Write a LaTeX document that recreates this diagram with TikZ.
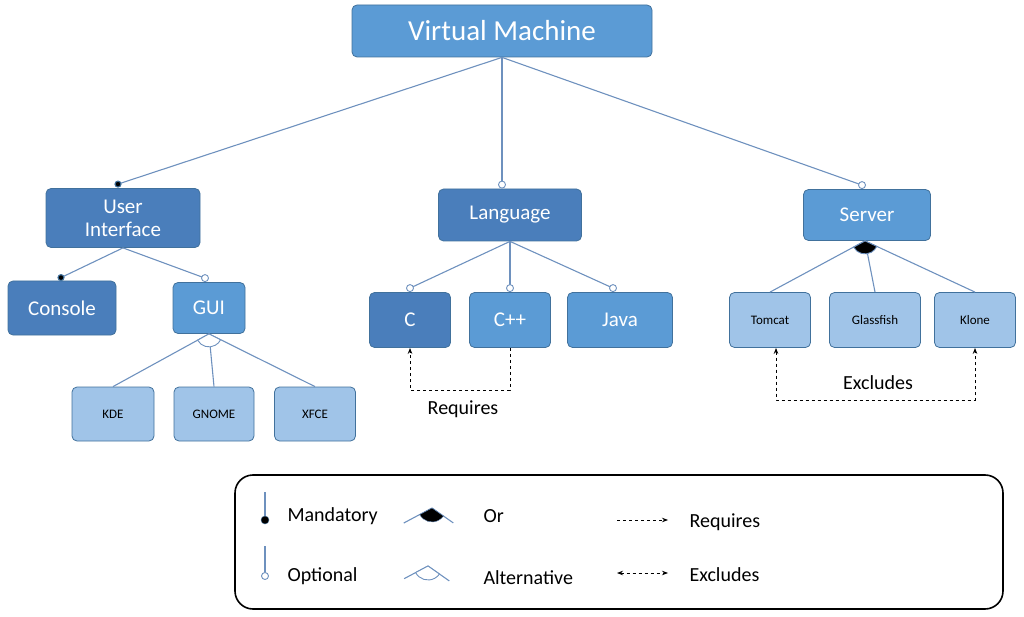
\documentclass[tikz,border=0pt]{standalone}
\usepackage{fontspec}
\setmainfont{Carlito}
\usetikzlibrary{arrows.meta,calc}
\definecolor{dk}{RGB}{74,126,187}
\definecolor{md}{RGB}{91,155,213}
\definecolor{lt}{RGB}{160,196,232}
\definecolor{bd}{RGB}{65,113,156}
\definecolor{ln}{RGB}{110,145,190}
\begin{document}
\begin{tikzpicture}[x=1pt,y=1pt,
 box/.style={draw=bd,line width=0.8pt,rounded corners=5pt,align=center,inner sep=0pt},
 dkb/.style={box,fill=dk,text=white,font=\fontsize{21}{23}\selectfont},
 mdb/.style={box,fill=md,text=white,font=\fontsize{21}{23}\selectfont},
 ltb/.style={box,fill=lt,text=black,font=\fontsize{13}{15}\selectfont},
 conn/.style={draw=ln,line width=1.1pt},
 mand/.style={circle,fill=black,draw=bd,inner sep=0pt,minimum size=6pt},
 opt/.style={circle,fill=white,draw=ln,line width=0.9pt,inner sep=0pt,minimum size=7pt},
 dep/.style={draw=black,dashed,line width=1pt,-{Stealth[length=6pt]}},
 lg/.style={font=\fontsize{20}{22}\selectfont,anchor=west}]
\useasboundingbox (0,0) rectangle (1024,-617);
% nodes
\node[mdb,minimum width=300,minimum height=52,font=\fontsize{29}{31}\selectfont] (vm) at (502,-31) {Virtual Machine};
\node[dkb,minimum width=154,minimum height=59] (ui) at (123,-218) {User\\Interface};
\node[dkb,minimum width=143,minimum height=52] (lang) at (510,-215) {Language};
\node[mdb,minimum width=127,minimum height=51] (srv) at (867,-215) {Server};
\node[dkb,minimum width=108,minimum height=54] (con) at (62,-308) {Console};
\node[mdb,minimum width=72,minimum height=51] (gui) at (209,-308) {GUI};
\node[ltb,minimum width=82,minimum height=54] (kde) at (113,-414) {KDE};
\node[ltb,minimum width=80,minimum height=54] (gnome) at (214,-414) {GNOME};
\node[ltb,minimum width=81,minimum height=54] (xfce) at (315,-414) {XFCE};
\node[dkb,minimum width=81,minimum height=55] (c) at (410,-320) {C};
\node[mdb,minimum width=81,minimum height=55] (cpp) at (510,-320) {C++};
\node[mdb,minimum width=105,minimum height=55] (java) at (620,-320) {Java};
\node[ltb,minimum width=81,minimum height=55] (tom) at (770,-320) {Tomcat};
\node[ltb,minimum width=91,minimum height=55] (gf) at (875,-320) {Glassfish};
\node[ltb,minimum width=81,minimum height=55] (kl) at (975,-320) {Klone};
% connectors
\coordinate (vmb) at ($(vm.south)+(0,0)$);
\draw[conn] (vmb) -- ([xshift=-5pt,yshift=4pt]ui.north) node[mand]{};
\draw[conn] (vmb) -- ([xshift=-8pt,yshift=4pt]lang.north) node[opt]{};
\draw[conn] (vmb) -- ([xshift=-5pt,yshift=4pt]srv.north) node[opt]{};
\draw[conn] (ui.south) -- ([xshift=-1pt,yshift=3pt]con.north) node[mand]{};
\draw[conn] (ui.south) -- ([xshift=-4pt,yshift=4pt]gui.north) node[opt]{};
\draw[conn] (lang.south) -- ([yshift=4pt]c.north) node[opt]{};
\draw[conn] (lang.south) -- ([yshift=4pt]cpp.north) node[opt]{};
\draw[conn] (lang.south) -- ([xshift=-7pt,yshift=4pt]java.north) node[opt]{};
\draw[conn] (gui.south) -- (kde.north);
\draw[conn] (gui.south) -- (gnome.north);
\draw[conn] (gui.south) -- (xfce.north);
\draw[draw=ln,fill=white,line width=0.9pt] (gui.south) -- ++(-151:13) arc[start angle=-151,end angle=-27,radius=13] -- cycle;
\draw[conn] ([xshift=-2pt]srv.south) -- (tom.north);
\draw[conn] ([xshift=-2pt]srv.south) -- (gf.north);
\draw[conn] ([xshift=-2pt]srv.south) -- (kl.north);
\draw[draw=ln,fill=black,line width=0.9pt] ([xshift=-2pt]srv.south) -- ++(-151:13) arc[start angle=-151,end angle=-25,radius=13] -- cycle;
% dependencies
\coordinate (r1) at (510,-390); \coordinate (r2) at (410,-390);
\draw[dep] (cpp.south) -- (r1) -- (r2) -- (c.south);
\node[font=\fontsize{20}{22}\selectfont] (rq) at (463,-409) {Requires};
\coordinate (e1) at (776,-400); \coordinate (e2) at (975,-400);
\draw[dep,{Stealth[length=6pt]}-{Stealth[length=6pt]}] ([xshift=6pt]tom.south) -- (e1) -- (e2) -- (kl.south);
\node[font=\fontsize{20}{22}\selectfont] (ex) at (878,-383) {Excludes};
% legend
\node[draw=black,line width=1.6pt,rounded corners=18pt,minimum width=768,minimum height=134,inner sep=0pt] (leg) at (619,-542) {};
\coordinate (m1) at (265,-492);
\node[mand,minimum size=8pt] (m2) at (265,-520) {};
\draw[conn] (m1) -- (m2);
\node[lg] (mt) at (284,-516) {Mandatory};
\coordinate (o1) at (265,-546);
\node[opt] (o2) at (265,-576) {};
\draw[conn] (o1) -- (o2);
\node[lg] (ot) at (284,-576) {Optional};
\coordinate (orc) at (432,-508);
\draw[conn] (orc) -- ++(-152:32);
\draw[conn] (orc) -- ++(-35:26);
\draw[draw=ln,fill=black] (orc) -- ++(-152:14) arc[start angle=-152,end angle=-35,radius=14] -- cycle;
\node[lg] (ort) at (480,-516) {Or};
\coordinate (alc) at (428,-566);
\draw[conn] (alc) -- ++(-152:27);
\draw[conn] (alc) -- ++(-35:26);
\draw[draw=ln,fill=white,line width=0.9pt] (alc) -- ++(-152:14) arc[start angle=-152,end angle=-35,radius=14] -- cycle;
\node[lg] (alt) at (480,-578) {Alternative};
\coordinate (ra) at (617,-520); \coordinate (rb) at (668,-520);
\draw[dep,line width=0.8pt] (ra) -- (rb);
\node[lg] (rt) at (686,-522) {Requires};
\coordinate (xa) at (617,-573); \coordinate (xb) at (668,-573);
\draw[dep,line width=0.8pt,{Stealth[length=6pt]}-{Stealth[length=6pt]}] (xa) -- (xb);
\node[lg] (xt) at (686,-575) {Excludes};
\end{tikzpicture}
\end{document}
